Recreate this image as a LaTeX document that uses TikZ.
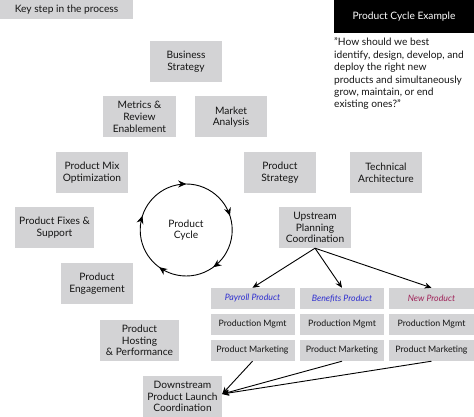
\documentclass[tikz,border=0pt]{standalone}
\usepackage{fontspec}
\setmainfont{Lato}
\usetikzlibrary{arrows.meta,decorations.markings}
\definecolor{boxgray}{HTML}{D3D3D5}
\definecolor{bluetxt}{HTML}{2F2FD0}
\definecolor{redtxt}{HTML}{A0245A}
\definecolor{txt}{HTML}{141414}
\tikzset{
  kbox/.style={fill=boxgray, align=center, inner sep=0pt, font=\fontsize{10.2}{11.7}\selectfont, text=txt,
    minimum width=72pt, minimum height=41pt},
  wbox/.style={kbox, minimum width=79pt},
  rbox/.style={fill=boxgray, align=center, inner sep=0pt, font=\fontsize{8.8}{10}\selectfont, text=txt,
    minimum width=84pt, minimum height=21pt},
  conn/.style={draw=black, line width=0.9pt, -{Stealth[length=7pt,width=6pt]}},
  cyctip/.style={}
}
\begin{document}
\begin{tikzpicture}[x=1pt,y=1pt]
\useasboundingbox (0,0) rectangle (474,417);
% legend
\node[kbox, minimum width=133pt, minimum height=19pt] (key) at (66.5,407.5) {Key step in the process};
\node[fill=black, text=white, inner sep=0pt, minimum width=140pt, minimum height=33pt,
  font=\fontsize{10.2}{11.7}\selectfont] (ex) at (404,400.5) {Product Cycle Example};
\node[anchor=north west, inner sep=0pt, align=left, text=txt, font=\fontsize{10.2}{12.4}\selectfont] (quote) at (334,379)
  {"How should we best\\identify, design, develop, and\\deploy the right new\\products and simultaneously\\grow, maintain, or end\\existing ones?"};
% steps
\node[kbox] (bs) at (186,355.5) {Business\\Strategy};
\node[kbox, minimum width=73pt] (metrics) at (139.5,300) {Metrics \&\\Review\\Enablement};
\node[kbox] (market) at (231,300) {Market\\Analysis};
\node[kbox] (mix) at (92,244.5) {Product Mix\\Optimization};
\node[kbox] (pstrat) at (280,244.5) {Product\\Strategy};
\node[kbox] (tech) at (386,244.5) {Technical\\Architecture};
\node[wbox] (fixes) at (54.5,189.5) {Product Fixes \&\\Support};
\node[kbox] (engage) at (97,133) {Product\\Engagement};
\node[wbox] (hosting) at (139.5,76.5) {Product\\Hosting\\\& Performance};
\node[wbox] (down) at (182.5,20.5) {Downstream\\Product Launch\\Coordination};
\node[kbox] (up) at (315,189.5) {Upstream\\Planning\\Coordination};
% cycle
\node[circle, minimum size=92pt, inner sep=0pt, align=center, text=txt, font=\fontsize{10.2}{11.7}\selectfont] (cyc) at (186,187) {Product\\Cycle};
\draw[line width=0.9pt, postaction={decorate}, decoration={markings,
  mark=at position 0.15 with {\arrow{Stealth[length=8pt,width=7pt]}},
  mark=at position 0.35 with {\arrow{Stealth[length=8pt,width=7pt]}},
  mark=at position 0.55 with {\arrow{Stealth[length=8pt,width=7pt]}},
  mark=at position 0.75 with {\arrow{Stealth[length=8pt,width=7pt]}},
  mark=at position 0.95 with {\arrow{Stealth[length=8pt,width=7pt]}}}]
  (cyc.east) arc[start angle=0, end angle=-360, radius=46pt];
% product columns
\node[rbox] (p1) at (252.5,118.5) {\color{bluetxt}\itshape Payroll Product};
\node[rbox] (p2) at (252.5,92.5) {Production Mgmt};
\node[rbox] (p3) at (252.5,66.5) {Product Marketing};
\node[rbox] (b1) at (342,118.5) {\color{bluetxt}\itshape Benefits Product};
\node[rbox] (b2) at (342,92.5) {Production Mgmt};
\node[rbox] (b3) at (342,66.5) {Product Marketing};
\node[rbox, minimum width=85pt] (n1) at (431.5,118.5) {\color{redtxt}\itshape New Product};
\node[rbox, minimum width=85pt] (n2) at (431.5,92.5) {Production Mgmt};
\node[rbox, minimum width=85pt] (n3) at (431.5,66.5) {Product Marketing};
% connectors
\draw[conn] (up.south) -- (p1.north);
\draw[conn] (up.south) -- (b1.north);
\draw[conn] (up.south) -- (n1.north);
\coordinate (dtip) at ([yshift=2.5pt]down.east);
\draw[conn] (p3.south) -- (dtip);
\draw[conn] (b3.south) -- (dtip);
\draw[conn] (n3.south) -- (dtip);
\end{tikzpicture}
\end{document}
